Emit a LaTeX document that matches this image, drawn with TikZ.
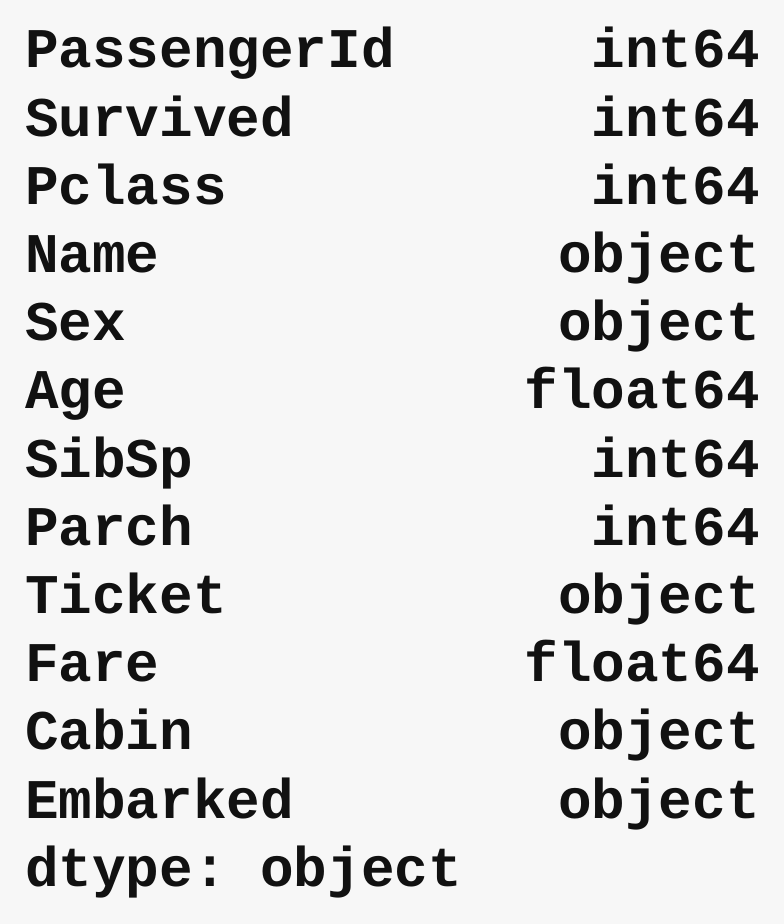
\documentclass[tikz,border=0pt]{standalone}
\usepackage{fontspec}
\setmonofont{Liberation Mono Bold}
\definecolor{bg}{HTML}{F7F7F7}
\definecolor{tx}{HTML}{111111}
\begin{document}
\begin{tikzpicture}[x=1pt,y=1pt,
  lbl/.style={anchor=base west,inner sep=0pt,font=\fontsize{56}{60}\selectfont\ttfamily,text=tx},
  typ/.style={anchor=base east,inner sep=0pt,font=\fontsize{56}{60}\selectfont\ttfamily,text=tx}]
\fill[bg] (0,0) rectangle (784,924);
\useasboundingbox (0,0) rectangle (784,924);
\foreach \n/\t [count=\i from 0] in {PassengerId/int64,Survived/int64,Pclass/int64,Name/object,Sex/object,Age/float64,SibSp/int64,Parch/int64,Ticket/object,Fare/float64,Cabin/object,Embarked/object}{
  \node[lbl] (l\i) at (25,{924-68-68.2*\i}) {\n};
  \node[typ] (t\i) at (760,{924-68-68.2*\i}) {\t};
}
\node[lbl] (dt) at (25,{924-68-68.2*12}) {dtype: object};
\end{tikzpicture}
\end{document}
